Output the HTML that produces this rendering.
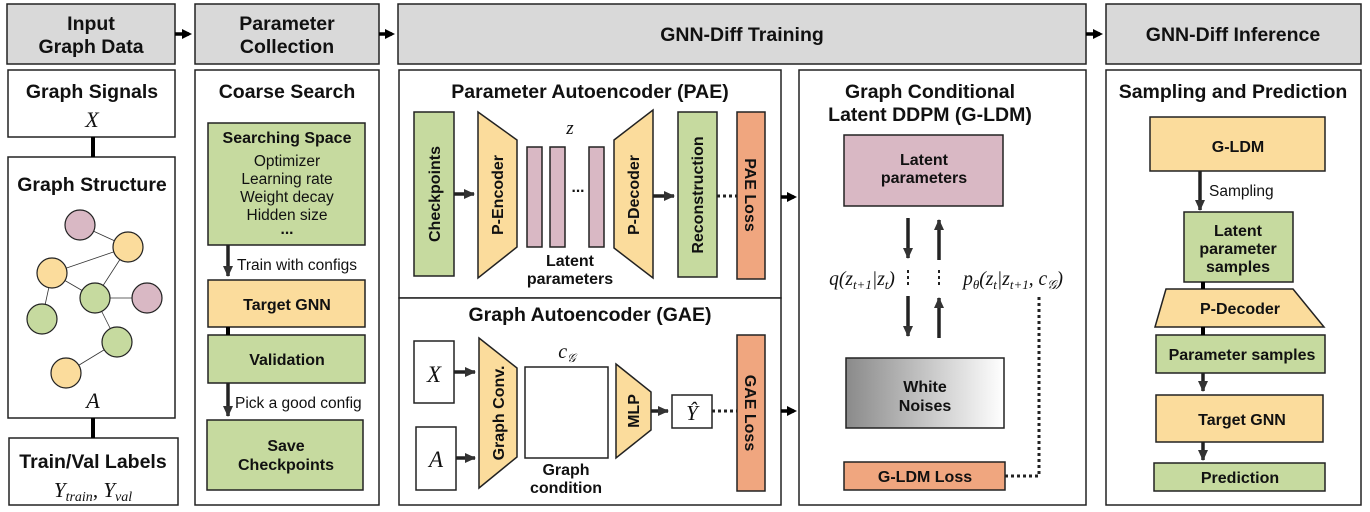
<!DOCTYPE html>
<html><head><meta charset="utf-8"><style>
html,body{margin:0;padding:0;background:#fff;}
svg{display:block;font-family:"Liberation Sans",Arial,sans-serif;}
.b{font-weight:bold;}
.m{font-family:"Liberation Serif",serif;font-style:italic;}
</style></head><body>
<svg width="1370" height="512" viewBox="0 0 1370 512" xmlns="http://www.w3.org/2000/svg">
<defs>
<marker id="ah" markerWidth="10" markerHeight="10" refX="7" refY="5" orient="auto" markerUnits="userSpaceOnUse">
<path d="M0,0 L10,5 L0,10 z" fill="#000"/></marker>
<marker id="ag" markerWidth="12" markerHeight="10" refX="10" refY="5" orient="auto" markerUnits="userSpaceOnUse">
<path d="M0,0 L11,5 L0,10 z" fill="#333"/></marker>
<linearGradient id="gr" x1="0" x2="1" y1="0" y2="0"><stop offset="0" stop-color="#8a8a8a"/><stop offset="1" stop-color="#fff"/></linearGradient>
</defs>
<g stroke="#222" stroke-width="1.5">
<rect x="7" y="4" width="168" height="60" fill="#d9d9d9"/>
<rect x="195" y="4" width="184" height="60" fill="#d9d9d9"/>
<rect x="398" y="4" width="688" height="60" fill="#d9d9d9"/>
<rect x="1106" y="4" width="255" height="60" fill="#d9d9d9"/>
<rect x="8" y="70" width="167" height="67" fill="#fff"/>
<rect x="8" y="157" width="167" height="261" fill="#fff"/>
<rect x="9" y="438" width="169" height="67" fill="#fff"/>
<rect x="195" y="70" width="184" height="435" fill="#fff"/>
<rect x="208" y="123" width="157" height="122" fill="#c6da9f"/>
<rect x="208" y="280" width="157" height="47" fill="#fbdc9c"/>
<rect x="208" y="335" width="157" height="48" fill="#c6da9f"/>
<rect x="207" y="420" width="156" height="70" fill="#c6da9f"/>
<rect x="399" y="70" width="382" height="228" fill="#fff"/>
<rect x="399" y="298" width="382" height="207" fill="#fff"/>
<rect x="414" y="112" width="40" height="164" fill="#c6da9f"/>
<polygon points="478,112 517,140 517,247 478,278" fill="#fbdc9c"/>
<rect x="527" y="147" width="15" height="100" fill="#d9b8c4"/>
<rect x="550" y="147" width="15" height="100" fill="#d9b8c4"/>
<rect x="589" y="147" width="15" height="100" fill="#d9b8c4"/>
<polygon points="614,140 653,110 653,278 614,248" fill="#fbdc9c"/>
<rect x="678" y="112" width="39" height="165" fill="#c6da9f"/>
<rect x="737" y="112" width="28" height="167" fill="#f0a67f"/>
<rect x="414" y="341" width="40" height="62" fill="#fff"/>
<rect x="416" y="427" width="40" height="63" fill="#fff"/>
<polygon points="479,338 517,368 517,457 479,488" fill="#fbdc9c"/>
<rect x="525" y="367" width="83" height="91" fill="#fff"/>
<polygon points="616,364 651,392 651,430 616,458" fill="#fbdc9c"/>
<rect x="672" y="395" width="40" height="33" fill="#fff"/>
<rect x="737" y="335" width="28" height="156" fill="#f0a67f"/>
<rect x="799" y="70" width="287" height="435" fill="#fff"/>
<rect x="844" y="135" width="159" height="71" fill="#d9b8c4"/>
<rect x="846" y="358" width="158" height="70" fill="url(#gr)"/>
<rect x="844" y="462" width="161" height="28" fill="#f0a67f"/>
<rect x="1106" y="70" width="255" height="435" fill="#fff"/>
<rect x="1150" y="117" width="175" height="54" fill="#fbdc9c"/>
<rect x="1184" y="212" width="109" height="70" fill="#c6da9f"/>
<polygon points="1166,289 1293,289 1324,327 1155,327" fill="#fbdc9c"/>
<rect x="1156" y="335" width="169" height="38" fill="#c6da9f"/>
<rect x="1156" y="395" width="167" height="47" fill="#fbdc9c"/>
<rect x="1154" y="463" width="171" height="28" fill="#c6da9f"/>
</g>
<g stroke="#333" stroke-width="0.8">
<line x1="80" y1="225" x2="128" y2="247"/><line x1="128" y1="247" x2="52" y2="273"/>
<line x1="128" y1="247" x2="95" y2="298"/><line x1="52" y1="273" x2="95" y2="298"/>
<line x1="95" y1="298" x2="147" y2="298"/><line x1="52" y1="273" x2="42" y2="319"/>
<line x1="95" y1="298" x2="117" y2="342"/><line x1="117" y1="342" x2="66" y2="373"/>
</g>
<g stroke="#222" stroke-width="1.2">
<circle cx="80" cy="225" r="15" fill="#d9b8c4"/><circle cx="128" cy="247" r="15" fill="#fbdc9c"/>
<circle cx="52" cy="273" r="15" fill="#fbdc9c"/><circle cx="95" cy="298" r="15" fill="#c6da9f"/>
<circle cx="147" cy="298" r="15" fill="#d9b8c4"/><circle cx="42" cy="319" r="15" fill="#c6da9f"/>
<circle cx="117" cy="342" r="15" fill="#c6da9f"/><circle cx="66" cy="373" r="15" fill="#fbdc9c"/>
</g>
<g stroke="#000" stroke-width="4">
<line x1="93" y1="137" x2="93" y2="157"/><line x1="93" y1="418" x2="93" y2="438"/>
<line x1="228" y1="327" x2="228" y2="335"/>
<line x1="1203" y1="282" x2="1203" y2="289"/><line x1="1203" y1="327" x2="1203" y2="335"/>
</g>
<g stroke="#000" stroke-width="3.5" fill="none">
<line x1="175" y1="34" x2="189" y2="34" marker-end="url(#ah)"/>
<line x1="379" y1="34" x2="392" y2="34" marker-end="url(#ah)"/>
<line x1="1086" y1="34" x2="1100" y2="34" marker-end="url(#ah)"/>
<line x1="781" y1="197" x2="794" y2="197" marker-end="url(#ah)"/>
<line x1="781" y1="411" x2="794" y2="411" marker-end="url(#ah)"/>
</g>
<g stroke="#222" stroke-width="3.5" fill="none">
<line x1="228" y1="245" x2="228" y2="276" marker-end="url(#ag)"/>
<line x1="228" y1="383" x2="228" y2="416" marker-end="url(#ag)"/>
<line x1="454" y1="194" x2="474" y2="194" marker-end="url(#ag)"/>
<line x1="653" y1="196" x2="674" y2="196" marker-end="url(#ag)"/>
<line x1="454" y1="372" x2="475" y2="372" marker-end="url(#ag)"/>
<line x1="456" y1="458" x2="475" y2="458" marker-end="url(#ag)"/>
<line x1="651" y1="411" x2="668" y2="411" marker-end="url(#ag)"/>
<line x1="908" y1="218" x2="908" y2="258" marker-end="url(#ag)"/>
<line x1="939" y1="260" x2="939" y2="220" marker-end="url(#ag)"/>
<line x1="908" y1="296" x2="908" y2="336" marker-end="url(#ag)"/>
<line x1="939" y1="338" x2="939" y2="298" marker-end="url(#ag)"/>
<line x1="1200" y1="171" x2="1200" y2="210" marker-end="url(#ag)"/>
<line x1="1203" y1="373" x2="1203" y2="391" marker-end="url(#ag)"/>
<line x1="1203" y1="442" x2="1203" y2="460" marker-end="url(#ag)"/>
</g>
<g stroke="#222" stroke-width="3" stroke-dasharray="3,3" fill="none">
<line x1="717" y1="196" x2="737" y2="196"/>
<line x1="712" y1="411" x2="737" y2="411"/>
<polyline points="1005,476 1039,476 1039,297"/>
<line x1="908" y1="270" x2="908" y2="286" stroke-width="2"/>
<line x1="939" y1="270" x2="939" y2="286" stroke-width="2"/>
</g>
<g text-anchor="middle" class="b" font-size="19.5" fill="#111">
<text x="91" y="30">Input</text><text x="91" y="53">Graph Data</text>
<text x="287" y="30">Parameter</text><text x="287" y="53">Collection</text>
<text x="742" y="41">GNN-Diff Training</text>
<text x="1233" y="41">GNN-Diff Inference</text>
<text x="92" y="98">Graph Signals</text>
<text x="92" y="191">Graph Structure</text>
<text x="93" y="468">Train/Val Labels</text>
<text x="287" y="98">Coarse Search</text>
<text x="590" y="98">Parameter Autoencoder (PAE)</text>
<text x="590" y="321">Graph Autoencoder (GAE)</text>
<text x="930" y="98">Graph Conditional</text><text x="930" y="121">Latent DDPM (G-LDM)</text>
<text x="1233" y="98">Sampling and Prediction</text>
</g>
<g text-anchor="middle" class="b" font-size="16" fill="#111">
<text x="287" y="143">Searching Space</text>
<text x="287" y="310">Target GNN</text>
<text x="287" y="365">Validation</text>
<text x="286" y="451">Save</text><text x="286" y="470">Checkpoints</text>
<text x="570" y="266">Latent</text><text x="570" y="284">parameters</text>
<text x="566" y="475">Graph</text><text x="566" y="493">condition</text>
<text x="924" y="165">Latent</text><text x="924" y="183">parameters</text>
<text x="925" y="392">White</text><text x="925" y="411">Noises</text>
<text x="925" y="482">G-LDM Loss</text>
<text x="1238" y="152">G-LDM</text>
<text x="1238" y="236">Latent</text><text x="1238" y="254">parameter</text><text x="1238" y="272">samples</text>
<text x="1240" y="314">P-Decoder</text>
<text x="1242" y="360">Parameter samples</text>
<text x="1242" y="425">Target GNN</text>
<text x="1240" y="483">Prediction</text>
<text transform="translate(440,194) rotate(-90)">Checkpoints</text>
<text transform="translate(503,195) rotate(-90)">P-Encoder</text>
<text transform="translate(639,195) rotate(-90)">P-Decoder</text>
<text transform="translate(703,195) rotate(-90)">Reconstruction</text>
<text transform="translate(745,195) rotate(90)">PAE Loss</text>
<text transform="translate(504,413) rotate(-90)">Graph Conv.</text>
<text transform="translate(639,411) rotate(-90)">MLP</text>
<text transform="translate(745,413) rotate(90)">GAE Loss</text>
</g>
<g text-anchor="middle" font-size="15.5" fill="#111">
<text x="287" y="166">Optimizer</text><text x="287" y="184">Learning rate</text>
<text x="287" y="202">Weight decay</text><text x="287" y="220">Hidden size</text>
<text x="287" y="234" class="b">...</text>
<text x="578" y="192" class="b">...</text>
</g>
<g font-size="15.5" fill="#111">
<text x="237" y="270">Train with configs</text>
<text x="235" y="408">Pick a good config</text>
<text x="1209" y="196">Sampling</text>
</g>
<g class="m" fill="#111" text-anchor="middle">
<text x="92" y="127" font-size="22">X</text>
<text x="93" y="408" font-size="22">A</text>
<text x="93" y="497" font-size="21">Y<tspan font-size="14" dy="4">train</tspan><tspan dy="-4" font-style="normal">, </tspan>Y<tspan font-size="14" dy="4">val</tspan></text>
<text x="570" y="134" font-size="19">z</text>
<text x="434" y="382" font-size="23">X</text>
<text x="436" y="467" font-size="23">A</text>
<text x="567" y="358" font-size="20">c<tspan font-size="12" dy="4">𝒢</tspan></text>
<text x="692" y="420" font-size="21">Ŷ</text>
<text x="862" y="285" font-size="19.5">q(z<tspan font-size="13" dy="4">t+1</tspan><tspan dy="-4">|z</tspan><tspan font-size="13" dy="4">t</tspan><tspan dy="-4">)</tspan></text>
<text x="1013" y="285" font-size="19.5">p<tspan font-size="13" dy="4">θ</tspan><tspan dy="-4">(z</tspan><tspan font-size="13" dy="4">t</tspan><tspan dy="-4">|z</tspan><tspan font-size="13" dy="4">t+1</tspan><tspan dy="-4">, c</tspan><tspan font-size="13" dy="4">𝒢</tspan><tspan dy="-4">)</tspan></text>
</g>
</svg>
</body></html>
